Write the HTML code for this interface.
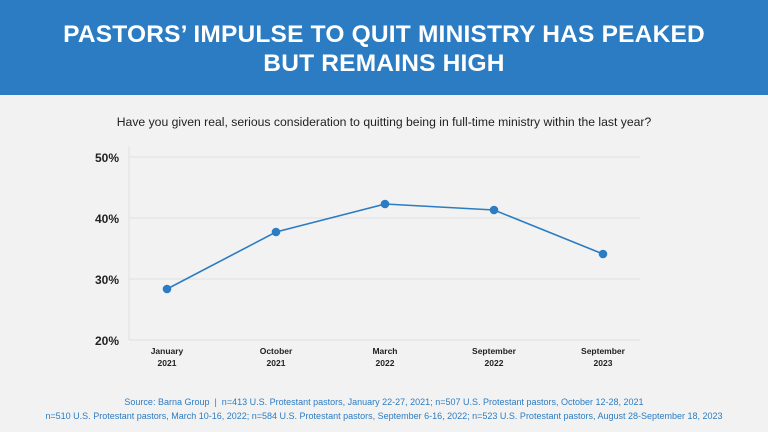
<!DOCTYPE html>
<html><head><style>
body{margin:0;width:768px;height:432px;background:#f2f2f2;font-family:"Liberation Sans",sans-serif;overflow:hidden;position:relative}
.hd{position:absolute;left:0;top:0;width:768px;height:95px;background:#2b7cc3;color:#fff;text-align:center;font-weight:bold;font-size:24.5px;line-height:29px;padding-top:20px;box-sizing:border-box;letter-spacing:0.2px}
.q{position:absolute;top:115px;width:768px;text-align:center;font-size:12.2px;color:#222}
.src{position:absolute;width:768px;text-align:center;font-size:9px;color:#2b7cc3;line-height:13.5px}
</style></head><body>
<div class="hd">PASTORS’ IMPULSE TO QUIT MINISTRY HAS PEAKED<br>BUT REMAINS HIGH</div>
<div class="q">Have you given real, serious consideration to quitting being in full-time ministry within the last year?</div>
<svg width="768" height="432" style="position:absolute;left:0;top:0">
<g stroke="#e0e0e0" stroke-width="1">
<line x1="129" y1="157" x2="640" y2="157"/><line x1="129" y1="218" x2="640" y2="218"/><line x1="129" y1="279" x2="640" y2="279"/><line x1="129" y1="340" x2="640" y2="340"/>
<line x1="129" y1="147" x2="129" y2="340"/>
</g>
<g font-size="12" font-weight="bold" fill="#222" text-anchor="end">
<text x="119" y="162">50%</text><text x="119" y="223">40%</text><text x="119" y="284">30%</text><text x="119" y="345">20%</text>
</g>
<g font-size="8.5" font-weight="bold" fill="#222" text-anchor="middle">
<text x="167" y="354">January</text><text x="167" y="366">2021</text>
<text x="276" y="354">October</text><text x="276" y="366">2021</text>
<text x="385" y="354">March</text><text x="385" y="366">2022</text>
<text x="494" y="354">September</text><text x="494" y="366">2022</text>
<text x="603" y="354">September</text><text x="603" y="366">2023</text>
</g>
<polyline points="167,289 276,232 385,204 494,210 603,254" fill="none" stroke="#2b7cc3" stroke-width="1.6"/>
<g fill="#2b7cc3"><circle cx="167" cy="289" r="4.3"/><circle cx="276" cy="232" r="4.3"/><circle cx="385" cy="204" r="4.3"/><circle cx="494" cy="210" r="4.3"/><circle cx="603" cy="254" r="4.3"/></g>
</svg>
<div class="src" style="top:396px">Source: Barna Group &nbsp;|&nbsp; n=413 U.S. Protestant pastors, January 22-27, 2021; n=507 U.S. Protestant pastors, October 12-28, 2021<br>n=510 U.S. Protestant pastors, March 10-16, 2022; n=584 U.S. Protestant pastors, September 6-16, 2022; n=523 U.S. Protestant pastors, August 28-September 18, 2023</div>
</body></html>
